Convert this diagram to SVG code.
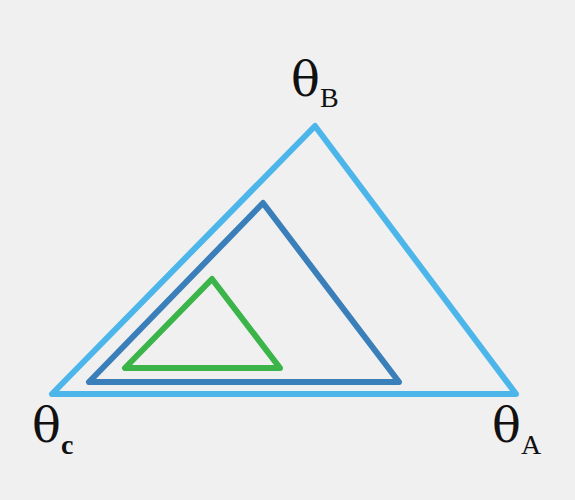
<svg xmlns="http://www.w3.org/2000/svg" width="575" height="500" viewBox="0 0 575 500">
<style>
.tri{fill:none;stroke-width:6;stroke-linejoin:round;stroke-linecap:round}
.t{font-family:"Liberation Serif","Times New Roman",serif;fill:#111}
.th{font-size:48px;font-family:"DejaVu Serif","Liberation Serif",serif}
.sub{font-size:28px}
</style>
<rect width="575" height="500" fill="#f0f0f0"/>
<g id="connectors"></g>
<g id="outer"><polygon class="tri" stroke="#4cb6ea" points="315,126 52,394 516,394"/></g>
<g id="middle"><polygon class="tri" stroke="#3a7fb9" points="263,203 89,382 399,382"/></g>
<g id="inner"><polygon class="tri" stroke="#3bb54a" points="212,279 125,368 280,368"/></g>
<g id="labelB"><text class="t" x="291" y="96"><tspan class="th">θ</tspan><tspan class="sub" dy="11">B</tspan></text></g>
<g id="labelC"><text class="t" x="32" y="442"><tspan class="th">θ</tspan><tspan class="sub" font-weight="bold" dy="12">c</tspan></text></g>
<g id="labelA"><text class="t" x="492" y="442"><tspan class="th">θ</tspan><tspan class="sub" dy="12">A</tspan></text></g>
</svg>
